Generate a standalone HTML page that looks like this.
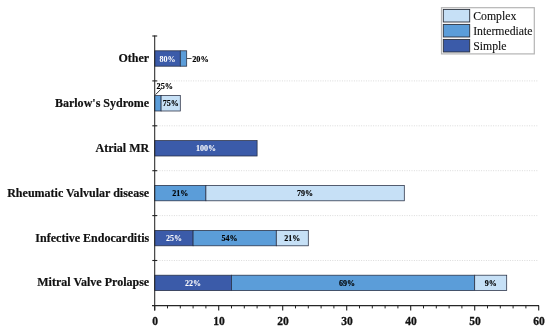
<!DOCTYPE html>
<html><head><meta charset="utf-8"><title>Chart</title><style>html,body{margin:0;padding:0;background:#fff}body{width:550px;height:332px;overflow:hidden}</style></head><body>
<svg width="550" height="332" viewBox="0 0 550 332" style="display:block;font-family:'Liberation Serif',serif">
<rect width="550" height="332" fill="#fff"/>
<line x1="154.7" y1="80.9" x2="538.5" y2="80.9" stroke="#d2d2d2" stroke-width="0.8" stroke-dasharray="1 1.4"/>
<line x1="154.7" y1="125.8" x2="538.5" y2="125.8" stroke="#d2d2d2" stroke-width="0.8" stroke-dasharray="1 1.4"/>
<line x1="154.7" y1="170.7" x2="538.5" y2="170.7" stroke="#d2d2d2" stroke-width="0.8" stroke-dasharray="1 1.4"/>
<line x1="154.7" y1="215.6" x2="538.5" y2="215.6" stroke="#d2d2d2" stroke-width="0.8" stroke-dasharray="1 1.4"/>
<line x1="154.7" y1="260.5" x2="538.5" y2="260.5" stroke="#d2d2d2" stroke-width="0.8" stroke-dasharray="1 1.4"/>
<rect x="154.7" y="50.8" width="25.6" height="15.4" fill="#3b5ba9" stroke="#262d42" stroke-width="0.75"/>
<text x="167.5" y="61.5" font-size="8" font-weight="bold" text-anchor="middle" fill="#fff" stroke="#fff" stroke-width="0.05">80%</text>
<rect x="180.3" y="50.8" width="6.4" height="15.4" fill="#5b9dd9" stroke="#262d42" stroke-width="0.75"/>
<text transform="translate(149.2,61.9) scale(0.925,1)" font-size="13" font-weight="bold" text-anchor="end" fill="#111" stroke="#111" stroke-width="0.2">Other</text>
<rect x="154.7" y="95.6" width="6.4" height="15.4" fill="#5b9dd9" stroke="#262d42" stroke-width="0.75"/>
<rect x="161.1" y="95.6" width="19.2" height="15.4" fill="#c6e0f6" stroke="#262d42" stroke-width="0.75"/>
<text x="170.7" y="106.3" font-size="8" font-weight="bold" text-anchor="middle" fill="#000" stroke="#000" stroke-width="0.15">75%</text>
<text transform="translate(149.2,106.8) scale(0.925,1)" font-size="13" font-weight="bold" text-anchor="end" fill="#111" stroke="#111" stroke-width="0.2">Barlow's Sydrome</text>
<rect x="154.7" y="140.6" width="102.4" height="15.4" fill="#3b5ba9" stroke="#262d42" stroke-width="0.75"/>
<text x="205.9" y="151.2" font-size="8" font-weight="bold" text-anchor="middle" fill="#fff" stroke="#fff" stroke-width="0.05">100%</text>
<text transform="translate(149.2,151.7) scale(0.925,1)" font-size="13" font-weight="bold" text-anchor="end" fill="#111" stroke="#111" stroke-width="0.2">Atrial MR</text>
<rect x="154.7" y="185.4" width="51.2" height="15.4" fill="#5b9dd9" stroke="#262d42" stroke-width="0.75"/>
<text x="180.3" y="196.1" font-size="8" font-weight="bold" text-anchor="middle" fill="#000" stroke="#000" stroke-width="0.15">21%</text>
<rect x="205.9" y="185.4" width="198.4" height="15.4" fill="#c6e0f6" stroke="#262d42" stroke-width="0.75"/>
<text x="305.1" y="196.1" font-size="8" font-weight="bold" text-anchor="middle" fill="#000" stroke="#000" stroke-width="0.15">79%</text>
<text transform="translate(149.2,196.5) scale(0.925,1)" font-size="13" font-weight="bold" text-anchor="end" fill="#111" stroke="#111" stroke-width="0.2">Rheumatic Valvular disease</text>
<rect x="154.7" y="230.4" width="38.4" height="15.4" fill="#3b5ba9" stroke="#262d42" stroke-width="0.75"/>
<text x="173.9" y="241.1" font-size="8" font-weight="bold" text-anchor="middle" fill="#fff" stroke="#fff" stroke-width="0.05">25%</text>
<rect x="193.1" y="230.4" width="83.2" height="15.4" fill="#5b9dd9" stroke="#262d42" stroke-width="0.75"/>
<text x="229.4" y="241.1" font-size="8" font-weight="bold" text-anchor="middle" fill="#000" stroke="#000" stroke-width="0.15">54%</text>
<rect x="276.3" y="230.4" width="32.0" height="15.4" fill="#c6e0f6" stroke="#262d42" stroke-width="0.75"/>
<text x="292.3" y="241.1" font-size="8" font-weight="bold" text-anchor="middle" fill="#000" stroke="#000" stroke-width="0.15">21%</text>
<text transform="translate(149.2,241.5) scale(0.925,1)" font-size="13" font-weight="bold" text-anchor="end" fill="#111" stroke="#111" stroke-width="0.2">Infective Endocarditis</text>
<rect x="154.7" y="275.2" width="76.8" height="15.4" fill="#3b5ba9" stroke="#262d42" stroke-width="0.75"/>
<text x="193.1" y="285.9" font-size="8" font-weight="bold" text-anchor="middle" fill="#fff" stroke="#fff" stroke-width="0.05">22%</text>
<rect x="231.5" y="275.2" width="243.2" height="15.4" fill="#5b9dd9" stroke="#262d42" stroke-width="0.75"/>
<text x="347.1" y="285.9" font-size="8" font-weight="bold" text-anchor="middle" fill="#000" stroke="#000" stroke-width="0.15">69%</text>
<rect x="474.7" y="275.2" width="32.0" height="15.4" fill="#c6e0f6" stroke="#262d42" stroke-width="0.75"/>
<text x="490.7" y="285.9" font-size="8" font-weight="bold" text-anchor="middle" fill="#000" stroke="#000" stroke-width="0.15">9%</text>
<text transform="translate(149.2,286.3) scale(0.925,1)" font-size="13" font-weight="bold" text-anchor="end" fill="#111" stroke="#111" stroke-width="0.2">Mitral Valve Prolapse</text>
<line x1="187" y1="58.5" x2="191.6" y2="58.5" stroke="#222" stroke-width="0.8"/>
<text x="192.2" y="61.5" font-size="8.3" font-weight="bold" fill="#000" stroke="#000" stroke-width="0.15">20%</text>
<line x1="155.6" y1="94.6" x2="161.3" y2="88.8" stroke="#1a1a1a" stroke-width="0.9"/>
<text x="156.6" y="89.1" font-size="8.2" font-weight="bold" fill="#000" stroke="#000" stroke-width="0.15">25%</text>
<line x1="154.7" y1="35.5" x2="154.7" y2="310.5" stroke="#262626" stroke-width="1.05"/>
<line x1="152" y1="305.6" x2="539" y2="305.6" stroke="#262626" stroke-width="1.05"/>
<line x1="152.3" y1="36.0" x2="157.2" y2="36.0" stroke="#222" stroke-width="1.1"/>
<line x1="152.3" y1="80.9" x2="157.2" y2="80.9" stroke="#222" stroke-width="1.1"/>
<line x1="152.3" y1="125.8" x2="157.2" y2="125.8" stroke="#222" stroke-width="1.1"/>
<line x1="152.3" y1="170.7" x2="157.2" y2="170.7" stroke="#222" stroke-width="1.1"/>
<line x1="152.3" y1="215.6" x2="157.2" y2="215.6" stroke="#222" stroke-width="1.1"/>
<line x1="152.3" y1="260.5" x2="157.2" y2="260.5" stroke="#222" stroke-width="1.1"/>
<line x1="154.7" y1="305.6" x2="154.7" y2="310.5" stroke="#222" stroke-width="1.1"/>
<text transform="translate(155.0,324.5) scale(0.93,1)" font-size="12.4" font-weight="bold" text-anchor="middle" fill="#111" stroke="#111" stroke-width="0.3">0</text>
<line x1="167.5" y1="305.6" x2="167.5" y2="308.4" stroke="#222" stroke-width="1"/>
<line x1="180.3" y1="305.6" x2="180.3" y2="308.4" stroke="#222" stroke-width="1"/>
<line x1="193.1" y1="305.6" x2="193.1" y2="308.4" stroke="#222" stroke-width="1"/>
<line x1="205.9" y1="305.6" x2="205.9" y2="308.4" stroke="#222" stroke-width="1"/>
<line x1="218.7" y1="305.6" x2="218.7" y2="310.5" stroke="#222" stroke-width="1.1"/>
<text transform="translate(219.0,324.5) scale(0.93,1)" font-size="12.4" font-weight="bold" text-anchor="middle" fill="#111" stroke="#111" stroke-width="0.3">10</text>
<line x1="231.5" y1="305.6" x2="231.5" y2="308.4" stroke="#222" stroke-width="1"/>
<line x1="244.3" y1="305.6" x2="244.3" y2="308.4" stroke="#222" stroke-width="1"/>
<line x1="257.1" y1="305.6" x2="257.1" y2="308.4" stroke="#222" stroke-width="1"/>
<line x1="269.9" y1="305.6" x2="269.9" y2="308.4" stroke="#222" stroke-width="1"/>
<line x1="282.7" y1="305.6" x2="282.7" y2="310.5" stroke="#222" stroke-width="1.1"/>
<text transform="translate(283.0,324.5) scale(0.93,1)" font-size="12.4" font-weight="bold" text-anchor="middle" fill="#111" stroke="#111" stroke-width="0.3">20</text>
<line x1="295.5" y1="305.6" x2="295.5" y2="308.4" stroke="#222" stroke-width="1"/>
<line x1="308.3" y1="305.6" x2="308.3" y2="308.4" stroke="#222" stroke-width="1"/>
<line x1="321.1" y1="305.6" x2="321.1" y2="308.4" stroke="#222" stroke-width="1"/>
<line x1="333.9" y1="305.6" x2="333.9" y2="308.4" stroke="#222" stroke-width="1"/>
<line x1="346.7" y1="305.6" x2="346.7" y2="310.5" stroke="#222" stroke-width="1.1"/>
<text transform="translate(347.0,324.5) scale(0.93,1)" font-size="12.4" font-weight="bold" text-anchor="middle" fill="#111" stroke="#111" stroke-width="0.3">30</text>
<line x1="359.5" y1="305.6" x2="359.5" y2="308.4" stroke="#222" stroke-width="1"/>
<line x1="372.3" y1="305.6" x2="372.3" y2="308.4" stroke="#222" stroke-width="1"/>
<line x1="385.1" y1="305.6" x2="385.1" y2="308.4" stroke="#222" stroke-width="1"/>
<line x1="397.9" y1="305.6" x2="397.9" y2="308.4" stroke="#222" stroke-width="1"/>
<line x1="410.7" y1="305.6" x2="410.7" y2="310.5" stroke="#222" stroke-width="1.1"/>
<text transform="translate(411.0,324.5) scale(0.93,1)" font-size="12.4" font-weight="bold" text-anchor="middle" fill="#111" stroke="#111" stroke-width="0.3">40</text>
<line x1="423.5" y1="305.6" x2="423.5" y2="308.4" stroke="#222" stroke-width="1"/>
<line x1="436.3" y1="305.6" x2="436.3" y2="308.4" stroke="#222" stroke-width="1"/>
<line x1="449.1" y1="305.6" x2="449.1" y2="308.4" stroke="#222" stroke-width="1"/>
<line x1="461.9" y1="305.6" x2="461.9" y2="308.4" stroke="#222" stroke-width="1"/>
<line x1="474.7" y1="305.6" x2="474.7" y2="310.5" stroke="#222" stroke-width="1.1"/>
<text transform="translate(475.0,324.5) scale(0.93,1)" font-size="12.4" font-weight="bold" text-anchor="middle" fill="#111" stroke="#111" stroke-width="0.3">50</text>
<line x1="487.5" y1="305.6" x2="487.5" y2="308.4" stroke="#222" stroke-width="1"/>
<line x1="500.3" y1="305.6" x2="500.3" y2="308.4" stroke="#222" stroke-width="1"/>
<line x1="513.1" y1="305.6" x2="513.1" y2="308.4" stroke="#222" stroke-width="1"/>
<line x1="525.9" y1="305.6" x2="525.9" y2="308.4" stroke="#222" stroke-width="1"/>
<line x1="538.7" y1="305.6" x2="538.7" y2="310.5" stroke="#222" stroke-width="1.1"/>
<text transform="translate(539.0,324.5) scale(0.93,1)" font-size="12.4" font-weight="bold" text-anchor="middle" fill="#111" stroke="#111" stroke-width="0.3">60</text>
<rect x="441.5" y="7.7" width="92.8" height="46.2" fill="#fff" stroke="#b4b4b4" stroke-width="1.2"/>
<rect x="443.3" y="9.4" width="26.4" height="12.6" fill="#c6e0f6" stroke="#2a2f3a" stroke-width="0.9"/>
<text transform="translate(473.2,20.4) scale(0.905,1)" font-size="13" fill="#111" stroke="#111" stroke-width="0.12">Complex</text>
<rect x="443.3" y="24.4" width="26.4" height="12.6" fill="#5b9dd9" stroke="#2a2f3a" stroke-width="0.9"/>
<text transform="translate(473.2,35.4) scale(0.905,1)" font-size="13" fill="#111" stroke="#111" stroke-width="0.12">Intermediate</text>
<rect x="443.3" y="39.4" width="26.4" height="12.6" fill="#3b5ba9" stroke="#2a2f3a" stroke-width="0.9"/>
<text transform="translate(473.2,50.4) scale(0.905,1)" font-size="13" fill="#111" stroke="#111" stroke-width="0.12">Simple</text>
</svg>
</body></html>
